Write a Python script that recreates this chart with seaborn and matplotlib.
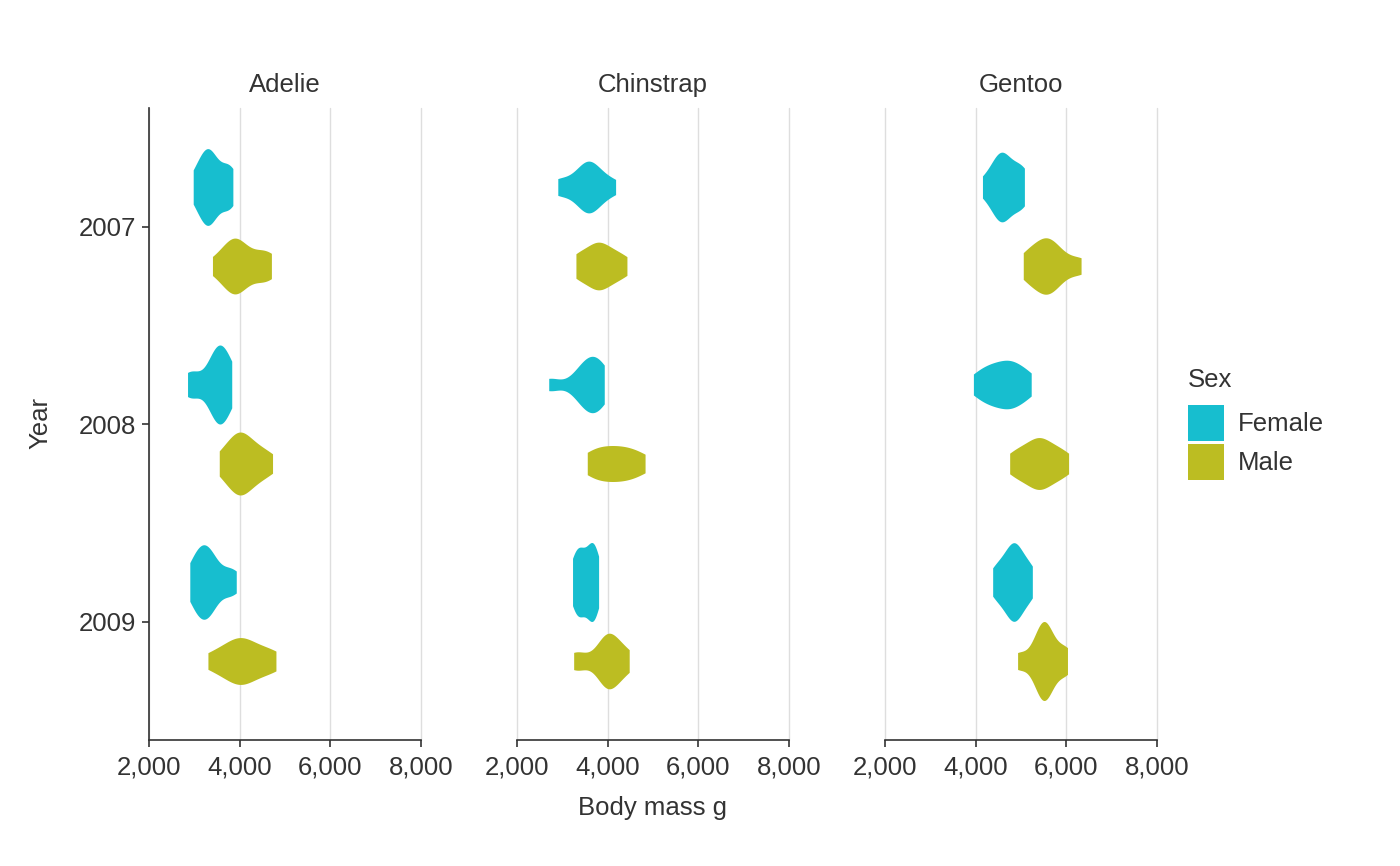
import pandas as pd
import matplotlib.pyplot as plt
import seaborn as sns
from matplotlib.patches import Patch
from matplotlib.ticker import StrMethodFormatter

# Categorias y estilos basicos
species = ['Adelie', 'Chinstrap', 'Gentoo']
years = ['2007', '2008', '2009']
sexes = ['Female', 'Male']
colors = ['#17becf', '#bcbd22']
x_ticks = [2000, 4000, 6000, 8000]

# Masa corporal (g) estimada a partir de los violines de la imagen
adelie_2007_female = [2975, 3050, 3150, 3200, 3250, 3300, 3300, 3350, 3400, 3450, 3550, 3700, 3750, 3800, 3850]
adelie_2007_male = [3400, 3600, 3700, 3800, 3850, 3900, 3925, 3950, 4000, 4100, 4300, 4450, 4550, 4650, 4700]
adelie_2008_female = [2850, 2900, 3050, 3350, 3400, 3450, 3500, 3550, 3550, 3600, 3650, 3700, 3800, 3825]
adelie_2008_male = [3550, 3700, 3800, 3900, 3950, 4000, 4050, 4100, 4200, 4300, 4400, 4550, 4725]
adelie_2009_female = [2900, 3000, 3050, 3100, 3150, 3200, 3250, 3300, 3350, 3400, 3450, 3700, 3800, 3925]
adelie_2009_male = [3300, 3500, 3700, 3800, 3900, 4000, 4050, 4100, 4200, 4350, 4500, 4700, 4800]

chinstrap_2007_female = [2900, 2925, 3250, 3400, 3450, 3550, 3575, 3600, 3650, 3700, 3800, 4000, 4175]
chinstrap_2007_male = [3300, 3325, 3450, 3650, 3700, 3750, 3800, 3850, 3950, 4050, 4150, 4300, 4425]
chinstrap_2008_female = [2700, 2750, 3250, 3400, 3450, 3500, 3550, 3600, 3650, 3700, 3750, 3800, 3850, 3900, 3925]
chinstrap_2008_male = [3550, 3700, 3850, 4000, 4150, 4300, 4450, 4600, 4825]
chinstrap_2009_female = [3225, 3250, 3325, 3375, 3400, 3450, 3550, 3600, 3650, 3675, 3700, 3750, 3800]
chinstrap_2009_male = [3250, 3300, 3400, 3850, 3900, 3950, 4000, 4000, 4000, 4050, 4100, 4150, 4300, 4400, 4475]

gentoo_2007_female = [4150, 4350, 4450, 4500, 4550, 4600, 4650, 4700, 4850, 4950, 5050, 5075]
gentoo_2007_male = [5050, 5100, 5200, 5300, 5400, 5450, 5500, 5550, 5600, 5650, 5700, 5750, 5850, 6000, 6300, 6325]
gentoo_2008_female = [3950, 4050, 4150, 4250, 4350, 4400, 4450, 4550, 4650, 4700, 4750, 4800, 4850, 4950, 5050, 5150, 5225]
gentoo_2008_male = [4750, 4850, 4950, 5050, 5150, 5250, 5300, 5350, 5400, 5450, 5500, 5550, 5650, 5750, 5850, 5950, 6050]
gentoo_2009_female = [4375, 4450, 4550, 4650, 4700, 4750, 4800, 4850, 4875, 4900, 4950, 5000, 5100, 5200, 5250]
gentoo_2009_male = [4925, 4950, 5250, 5350, 5400, 5450, 5475, 5500, 5500, 5525, 5550, 5575, 5600, 5650, 5800, 5950, 6000, 6025]

groups = [
    ('Adelie', '2007', 'Female', adelie_2007_female),
    ('Adelie', '2007', 'Male', adelie_2007_male),
    ('Adelie', '2008', 'Female', adelie_2008_female),
    ('Adelie', '2008', 'Male', adelie_2008_male),
    ('Adelie', '2009', 'Female', adelie_2009_female),
    ('Adelie', '2009', 'Male', adelie_2009_male),
    ('Chinstrap', '2007', 'Female', chinstrap_2007_female),
    ('Chinstrap', '2007', 'Male', chinstrap_2007_male),
    ('Chinstrap', '2008', 'Female', chinstrap_2008_female),
    ('Chinstrap', '2008', 'Male', chinstrap_2008_male),
    ('Chinstrap', '2009', 'Female', chinstrap_2009_female),
    ('Chinstrap', '2009', 'Male', chinstrap_2009_male),
    ('Gentoo', '2007', 'Female', gentoo_2007_female),
    ('Gentoo', '2007', 'Male', gentoo_2007_male),
    ('Gentoo', '2008', 'Female', gentoo_2008_female),
    ('Gentoo', '2008', 'Male', gentoo_2008_male),
    ('Gentoo', '2009', 'Female', gentoo_2009_female),
    ('Gentoo', '2009', 'Male', gentoo_2009_male),
]

rows = []
for sp, yr, sx, values in groups:
    for v in values:
        rows.append({'species': sp, 'year': yr, 'sex': sx, 'body_mass_g': v})
df = pd.DataFrame(rows)

# Estilo general
sns.set_style('white')
plt.rcParams['font.family'] = ['Liberation Sans', 'DejaVu Sans']
text_color = '#333333'
font_size = 18.5

W, H = 1400, 866
fig = plt.figure(figsize=(W / 100, H / 100), dpi=100)

panel_lefts = [149, 517, 885]
for i, sp in enumerate(species):
    ax = fig.add_axes([panel_lefts[i] / W, 1 - 740 / H, 272 / W, 632 / H])
    sns.violinplot(data=df[df['species'] == sp], x='body_mass_g', y='year', hue='sex',
                   order=years, hue_order=sexes, palette=colors, saturation=1,
                   orient='h', inner=None, cut=0, linewidth=0,
                   density_norm='area', common_norm=True, bw_adjust=1.0,
                   legend=False, ax=ax)
    ax.set_xlim(2000, 8000)
    ax.set_ylim(2.6, -0.6)
    ax.set_xticks(x_ticks)
    ax.xaxis.set_major_formatter(StrMethodFormatter('{x:,.0f}'))
    ax.grid(axis='x', color='#dedede', linewidth=1)
    ax.grid(axis='y', visible=False)
    for line in ax.get_xgridlines():
        line.set_clip_on(False)
    ax.set_axisbelow(True)
    ax.set_xlabel('')
    ax.set_ylabel('')
    ax.set_title(sp, fontsize=font_size, color=text_color, pad=11.5)

    ax.spines['top'].set_visible(False)
    ax.spines['right'].set_visible(False)
    ax.spines['bottom'].set_color(text_color)
    ax.spines['bottom'].set_linewidth(1.2)
    ax.tick_params(axis='x', bottom=True, length=5, width=1.2, color=text_color,
                   labelsize=font_size, labelcolor=text_color, pad=6.5)
    if i == 0:
        ax.spines['left'].set_color(text_color)
        ax.spines['left'].set_linewidth(1.2)
        ax.tick_params(axis='y', left=True, length=5, width=1.2, color=text_color,
                       labelsize=font_size, labelcolor=text_color, pad=4)
    else:
        ax.spines['left'].set_visible(False)
        ax.tick_params(axis='y', left=False, labelleft=False)

# Etiquetas de los ejes
fig.text(653 / W, 1 - 808 / H, 'Body mass g', ha='center', va='center',
         fontsize=font_size, color=text_color)
fig.text(40 / W, 1 - 423 / H, 'Year', ha='center', va='center', rotation=90,
         fontsize=font_size, color=text_color)

# Leyenda
fig.text(1188 / W, 1 - 380 / H, 'Sex', ha='left', va='center',
         fontsize=font_size, color=text_color)
handles = [Patch(facecolor=c, edgecolor='none') for c in colors]
leg = fig.legend(handles, sexes, loc='upper left',
                 bbox_to_anchor=(1188 / W, 1 - 405 / H), frameon=False,
                 fontsize=font_size, handlelength=1.4, handleheight=1.78,
                 handletextpad=0.54, labelspacing=0.1,
                 borderpad=0, borderaxespad=0)
for t in leg.get_texts():
    t.set_color(text_color)

fig.savefig('out.png', dpi=100)
